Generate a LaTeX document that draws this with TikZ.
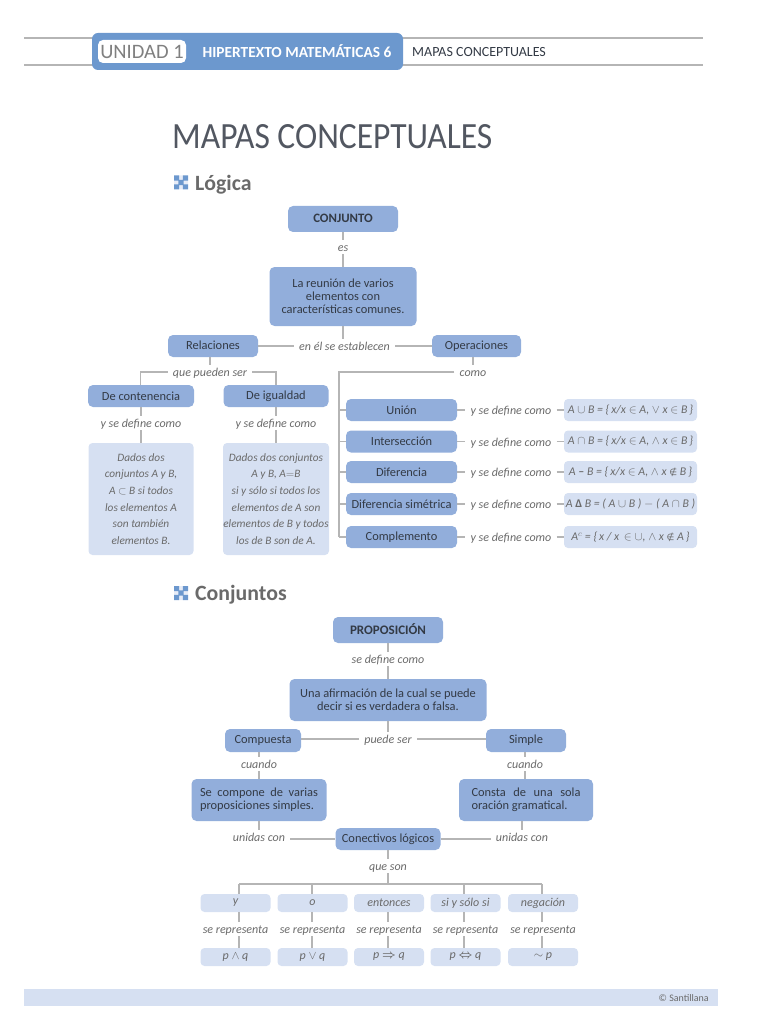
\documentclass[tikz,border=0pt]{standalone}
\usepackage{fontspec}
\setmainfont{Carlito}
\newfontfamily\symbfont{DejaVu Sans}
\definecolor{boxblue}{HTML}{92AEDB}
\definecolor{paleblue}{HTML}{D6E0F2}
\definecolor{headblue}{HTML}{6C98CE}
\definecolor{linegray}{HTML}{B5B5B5}
\definecolor{inkdark}{HTML}{333A45}
\definecolor{inkgray}{HTML}{6A6A6A}
\tikzset{
  mainbox/.style={fill=boxblue,rounded corners=5pt,text=inkdark,font=\fontsize{12.4}{13}\selectfont,align=center,inner sep=0pt},
  palebox/.style={fill=paleblue,rounded corners=4pt,text=inkgray,font=\fontsize{12}{16.6}\selectfont\itshape,align=center,inner sep=0pt},
  formbox/.style={palebox,minimum width=133pt,minimum height=22pt,font=\fontsize{11.8}{13}\selectfont\itshape},
  linkword/.style={text=inkgray,font=\fontsize{12}{14}\selectfont\itshape,inner xsep=5pt,inner ysep=2pt,text height=10pt,text depth=.5pt},
  conn/.style={draw=linegray,line width=1.6pt},
  crossmark/.pic={
    \fill[paleblue!60] (-2.4,-7) rectangle (2.4,-2.4) (-2.4,2.4) rectangle (2.4,7)
      (-7,-2.4) rectangle (-2.4,2.4) (2.4,-2.4) rectangle (7,2.4);
    \fill[headblue] (-7,-7) rectangle (-1.8,-1.8) (1.8,-7) rectangle (7,-1.8)
      (-7,1.8) rectangle (-1.8,7) (1.8,1.8) rectangle (7,7) (-2.6,-2.6) rectangle (2.6,2.6);
  }
}
\begin{document}
\begin{tikzpicture}[x=1pt,y=-1pt]
\useasboundingbox (0,0) rectangle (768,1024);
% page header
\coordinate (ruleAL) at (24,38);
\coordinate (ruleAR) at (703,38);
\coordinate (ruleBL) at (24,65);
\coordinate (ruleBR) at (703,65);
\draw[linegray,line width=2pt] (ruleAL) -- (ruleAR);
\draw[linegray,line width=2pt] (ruleBL) -- (ruleBR);
\node[fill=headblue,rounded corners=6pt,minimum width=311pt,minimum height=37pt] (tab) at (247.5,51.5) {};
\node[fill=white,rounded corners=5pt,minimum width=88pt,minimum height=23pt,text=gray,font=\fontsize{20.5}{22}\selectfont,inner sep=0pt] (unit) at (142,51.5) {UNIDAD 1};
\node[text=white,font=\fontsize{15.4}{17}\selectfont\bfseries,inner sep=0pt] (book) at (297,51.5) {HIPERTEXTO MATEMÁTICAS 6};
\node[text=inkdark,font=\fontsize{14}{16}\selectfont,anchor=west,inner sep=0pt] (chapter) at (412,52) {MAPAS CONCEPTUALES};
\node[text=inkdark!85,font=\fontsize{37}{40}\selectfont,anchor=west,inner sep=0pt] (title) at (172,137) {\scalebox{.906}[1]{MAPAS CONCEPTUALES}};
% first map
\pic at (181,182.5) {crossmark};
\node[text=inkgray,font=\fontsize{21.8}{24}\selectfont\bfseries,anchor=west,inner sep=0pt] (logica) at (195,185) {Lógica};
\node[mainbox,minimum width=110pt,minimum height=26pt,font=\fontsize{12.8}{14}\selectfont\bfseries] (conjunto) at (343,219) {\raisebox{1pt}{CONJUNTO}};
\node[linkword] (es) at (343,247) {es};
\node[mainbox,minimum width=147pt,minimum height=59pt] (reunion) at (343,296.5) {La reunión de varios\\elementos con\\características comunes.};
\node[mainbox,minimum width=90pt,minimum height=22pt] (relaciones) at (213,346) {\raisebox{1.5pt}{Relaciones}};
\node[linkword] (establecen) at (344.5,346) {en él se establecen};
\node[mainbox,minimum width=89pt,minimum height=22pt] (operaciones) at (476.5,346) {\raisebox{1.5pt}{Operaciones}};
\node[linkword] (pueden) at (210,372) {que pueden ser};
\node[linkword] (como) at (473,372) {como};
\coordinate (elbowA) at (140.5,372);
\coordinate (elbowB) at (276,372);
\coordinate (elbowC) at (339,372);
\node[mainbox,minimum width=106pt,minimum height=22pt] (contenencia) at (141,396) {De contenencia};
\node[mainbox,minimum width=105pt,minimum height=22pt] (igualdad) at (276,396) {De igualdad};
\node[linkword] (defA) at (141,423) {y se define como};
\node[linkword] (defB) at (276,423) {y se define como};
\node[palebox,minimum width=105pt,minimum height=112pt,font=\fontsize{11.3}{16.6}\selectfont\itshape] (textA) at (141,499) {Dados dos\\conjuntos A y B,\\A $\subset$ B si todos\\los elementos A\\son también\\elementos B.};
\node[palebox,minimum width=106pt,minimum height=112pt,font=\fontsize{11.3}{16.6}\selectfont\itshape] (textB) at (276,499) {Dados dos conjuntos\\A y B, A$=$B\\si y sólo si todos los\\elementos de A son\\elementos de B y todos\\los de B son de A.};
\draw[conn] (conjunto) -- (es);
\draw[conn] (es) -- (reunion);
\draw[conn] (reunion.south) -- (reunion.south |- establecen.north);
\draw[conn] (relaciones) -- (establecen);
\draw[conn] (establecen) -- (operaciones);
\draw[conn] (relaciones.south -| pueden) -- (pueden);
\draw[conn] (operaciones.south -| como) -- (como);
\draw[conn] (pueden) -- (elbowA) -- (contenencia.north -| elbowA);
\draw[conn] (pueden) -- (elbowB) -- (igualdad.north -| elbowB);
\draw[conn] (contenencia) -- (defA);
\draw[conn] (defA) -- (textA);
\draw[conn] (igualdad) -- (defB);
\draw[conn] (defB) -- (textB);
% operations, one row each
\foreach \rowname/\rowy/\rowtext/\rowform in {
  union/410/Unión/{A $\cup$ B = \{\,x/x $\in$ A, $\vee$ x $\in$ B\,\}},
  inter/441.5/Intersección/{A $\cap$ B = \{\,x/x $\in$ A, $\wedge$ x $\in$ B\,\}},
  difer/472/Diferencia/{A {\bfseries –} B = \{\,x/x $\in$ A, $\wedge$ x {\symbfont\upshape\small ∉} B\,\}},
  simet/504/Diferencia simétrica/{A {\bfseries\upshape Δ} B = ( A $\cup$ B ) $-$ ( A $\cap$ B )},
  compl/537/Complemento/{A$^c$ = \{\,x / x\, $\in$ $\cup$, $\wedge$ x {\symbfont\upshape\small ∉} A\,\}}}{
  \node[mainbox,minimum width=111pt,minimum height=22pt] (\rowname) at (401.5,\rowy) {\rowtext};
  \node[linkword] (def\rowname) at (511,\rowy) {y se define como};
  \node[formbox] (form\rowname) at (630.5,\rowy) {\rowform};
  \draw[conn] (\rowname) -- (def\rowname);
  \draw[conn] (def\rowname) -- (form\rowname);
  \draw[conn] (\rowname.west) -- (\rowname.west -| elbowC);
}
\draw[conn] (como) -- (elbowC) -- (compl.west -| elbowC);
% second map
\pic at (181,593) {crossmark};
\node[text=inkgray,font=\fontsize{21.8}{24}\selectfont\bfseries,anchor=west,inner sep=0pt] (conjuntos) at (195,595) {Conjuntos};
\node[mainbox,minimum width=110pt,minimum height=26pt,font=\fontsize{13}{14}\selectfont\bfseries] (proposicion) at (388,630) {\raisebox{2pt}{PROPOSICIÓN}};
\node[linkword] (sedefine) at (388,659) {se define como};
\node[mainbox,minimum width=197pt,minimum height=42pt] (afirmacion) at (388,700) {Una afirmación de la cual se puede\\decir si es verdadera o falsa.};
\node[mainbox,minimum width=76pt,minimum height=23pt] (compuesta) at (263,740.5) {Compuesta};
\node[linkword] (puede) at (388,739) {puede ser};
\node[mainbox,minimum width=80pt,minimum height=23pt] (simple) at (526,740.5) {Simple};
\node[linkword] (cuandoA) at (259,764) {cuando};
\node[linkword] (cuandoB) at (525,764) {cuando};
\node[mainbox,minimum width=135pt,minimum height=42pt,align=left] (compone) at (259,800) {\makebox[118pt][s]{Se compone de varias}\\proposiciones simples.};
\node[mainbox,minimum width=134pt,minimum height=42pt,align=left] (consta) at (526,800) {\makebox[109pt][s]{Consta de una sola}\hspace{0pt}\\oración gramatical.};
\node[linkword] (unidasA) at (259,837) {unidas con};
\node[mainbox,minimum width=105pt,minimum height=22pt] (conectivos) at (388,839) {Conectivos lógicos};
\node[linkword] (unidasB) at (522,837) {unidas con};
\node[linkword] (queson) at (388,866) {que son};
\draw[conn] (proposicion) -- (sedefine);
\draw[conn] (sedefine) -- (afirmacion);
\draw[conn] (afirmacion) -- (puede);
\draw[conn] (compuesta.east |- puede) -- (puede);
\draw[conn] (puede) -- (simple.west |- puede);
\draw[conn] (compuesta.south -| cuandoA) -- (cuandoA);
\draw[conn] (cuandoA) -- (compone);
\draw[conn] (simple.south -| cuandoB) -- (cuandoB);
\draw[conn] (cuandoB) -- (consta.north -| cuandoB);
\draw[conn] (compone) -- (unidasA);
\draw[conn] (consta.south -| unidasB) -- (unidasB);
\draw[conn] (unidasA.east |- conectivos) -- (conectivos);
\draw[conn] (conectivos) -- (unidasB.west |- conectivos);
\draw[conn] (conectivos) -- (queson);
% connectives
\coordinate (barL) at (239,884);
\coordinate (barR) at (542,884);
\coordinate (barM) at (388,884);
\draw[conn] (barL) -- (barR);
\draw[conn] (queson) -- (barM);
\foreach \conname/\conx/\tickx/\context/\consym in {
  cy/235.5/239/y/{p $\wedge$ q},
  co/312.5/312/o/{p $\vee$ q},
  ce/389/388/entonces/{p {\boldmath$\Rightarrow$} q},
  cs/465.5/464/si y sólo si/{p {\boldmath$\Leftrightarrow$} q},
  cn/543/542/negación/{$\sim$ p}}{
  \coordinate (top\conname) at (\tickx,884);
  \node[palebox,minimum width=70pt,minimum height=18pt] (\conname) at (\conx,903) {\context};
  \node[linkword] (rep\conname) at (\conx,929) {se representa};
  \node[palebox,minimum width=70pt,minimum height=18pt] (sym\conname) at (\conx,957) {\consym};
  \draw[conn] (\conname.south -| top\conname) -- (rep\conname.north -| top\conname);
  \draw[conn] (rep\conname.south -| top\conname) -- (sym\conname.north -| top\conname);
}
\draw[conn] (topcy) -- (cy.north -| topcy);
\draw[conn] (topco) -- (co.north -| topco);
\draw[conn] (topcs) -- (cs.north -| topcs);
\draw[conn] (topcn) -- (cn.north -| topcn);
% footer
\node[fill=paleblue,minimum width=694pt,minimum height=17pt,inner sep=0pt] (band) at (371,997.5) {};
\node[text=inkgray,font=\fontsize{10}{11}\selectfont,anchor=east,inner sep=0pt] (credit) at (709,998) {© Santillana};
\end{tikzpicture}
\end{document}
